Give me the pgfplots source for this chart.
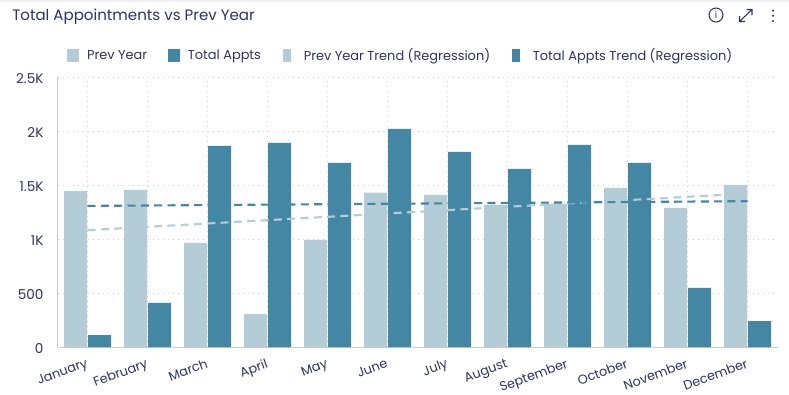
\documentclass[border=0pt]{standalone}
\usepackage{fontspec}
\setmainfont{Poppins}
\usepackage{pgfplots}
\pgfplotsset{compat=1.18}
\definecolor{prevc}{HTML}{B4CCD6}
\definecolor{totc}{HTML}{4487A4}
\definecolor{txt}{HTML}{2D3363}
\definecolor{gridc}{HTML}{CFCFCF}
\definecolor{axc}{HTML}{C9CBCE}
\begin{document}
\begin{tikzpicture}
\path[use as bounding box,fill=white] (0,0) rectangle (591.75pt,-295.5pt);
\begin{scope}[x=0.75pt,y=-0.75pt]
\fill[black!6] (0,0) rectangle (789,2);
\node[anchor=west,text=txt,font=\fontsize{11.3pt}{13pt}\selectfont,inner sep=0pt] at (12,16.5) {Total Appointments vs Prev Year};
\draw[txt,line width=0.8pt] (716,15) circle (7);
\node[text=txt,font=\fontsize{7pt}{8pt}\selectfont,inner sep=0pt] at (716,15) {i};
\draw[txt,line width=0.8pt] (739.5,21.5)--(751.5,10) (746.5,9.5)--(752,9.5)--(752,15) (739.5,16)--(739.5,21.5)--(745,21.5);
\fill[txt] (773,10.7) circle (1.2) (773,15.7) circle (1.2) (773,21) circle (1.2);
\end{scope}
\begin{axis}[
  at={(43.125pt,-260.25pt)},anchor=south west,
  scale only axis,width=540pt,height=202.25pt,
  xmin=-0.5,xmax=11.5,ymin=0,ymax=2500,
  axis x line*=bottom,axis y line*=left,
  axis line style={-,draw=axc,line width=0.75pt},
  ytick={0,500,1000,1500,2000,2500},
  yticklabels={0,500,1K,1.5K,2K,2.5K},
  xtick={0,...,11},
  xticklabels={January,February,March,April,May,June,July,August,September,October,November,December},
  major tick length=0pt,
  ymajorgrids,xmajorgrids,
  grid style={draw=gridc,line width=0.75pt,dash pattern=on 0.75pt off 3pt},
  tick label style={text=txt},
  /pgf/number format/assume math mode=true,
  yticklabel style={xshift=-7pt,yshift=-0.75pt,font=\fontsize{10.2pt}{12pt}\selectfont},
  xticklabel style={rotate=20,anchor=north east,yshift=-4pt,xshift=-1pt,font=\fontsize{9.6pt}{11pt}\selectfont},
  legend columns=4,
  legend cell align=left,
  legend style={draw=none,fill=none,at={(7pt,1.0)},anchor=south west,
    yshift=9pt,font=\fontsize{9.7pt}{11pt}\selectfont,text=txt,inner sep=0pt,
    /tikz/every odd column/.style={column sep=4pt},
    /tikz/every even column/.style={column sep=13.5pt}},
]
\addplot[ybar,bar width=17.25pt,bar shift=-9pt,fill=prevc,draw=none,
  legend image code/.code={\fill[prevc] (0pt,-5pt) rectangle (9pt,5pt);}]
  coordinates {(0,1445)(1,1457)(2,965)(3,306)(4,993)(5,1432)(6,1410)(7,1318)(8,1327)(9,1475)(10,1290)(11,1503)};
\addlegendentry{\strut Prev Year}
\addplot[ybar,bar width=17.25pt,bar shift=9pt,fill=totc,draw=none,
  legend image code/.code={\fill[totc] (0pt,-5pt) rectangle (9pt,5pt);}]
  coordinates {(0,111)(1,408)(2,1865)(3,1893)(4,1707)(5,2023)(6,1810)(7,1652)(8,1875)(9,1707)(10,548)(11,241)};
\addlegendentry{\strut Total Appts}
\addplot[prevc,line width=1.6pt,dash pattern=on 6pt off 4pt,
  legend image code/.code={\fill[prevc,solid,draw=none] (0pt,-5pt) rectangle (6pt,5pt);\path (0pt,0pt) (9pt,0pt);}]
  coordinates {(0,1083)(1,1114)(2,1145)(3,1176)(4,1207)(5,1238)(6,1269)(7,1300)(8,1331)(9,1361)(10,1392)(11,1423)};
\addlegendentry{\strut Prev Year Trend (Regression)}
\addplot[totc,line width=1.6pt,dash pattern=on 6pt off 4pt,
  legend image code/.code={\fill[totc,solid,draw=none] (0pt,-5pt) rectangle (6pt,5pt);\path (0pt,0pt) (9pt,0pt);}]
  coordinates {(0,1308)(1,1312)(2,1316)(3,1320)(4,1324)(5,1328)(6,1332)(7,1336)(8,1340)(9,1344)(10,1348)(11,1352)};
\addlegendentry{\strut Total Appts Trend (Regression)}
\end{axis}
\end{tikzpicture}
\end{document}
